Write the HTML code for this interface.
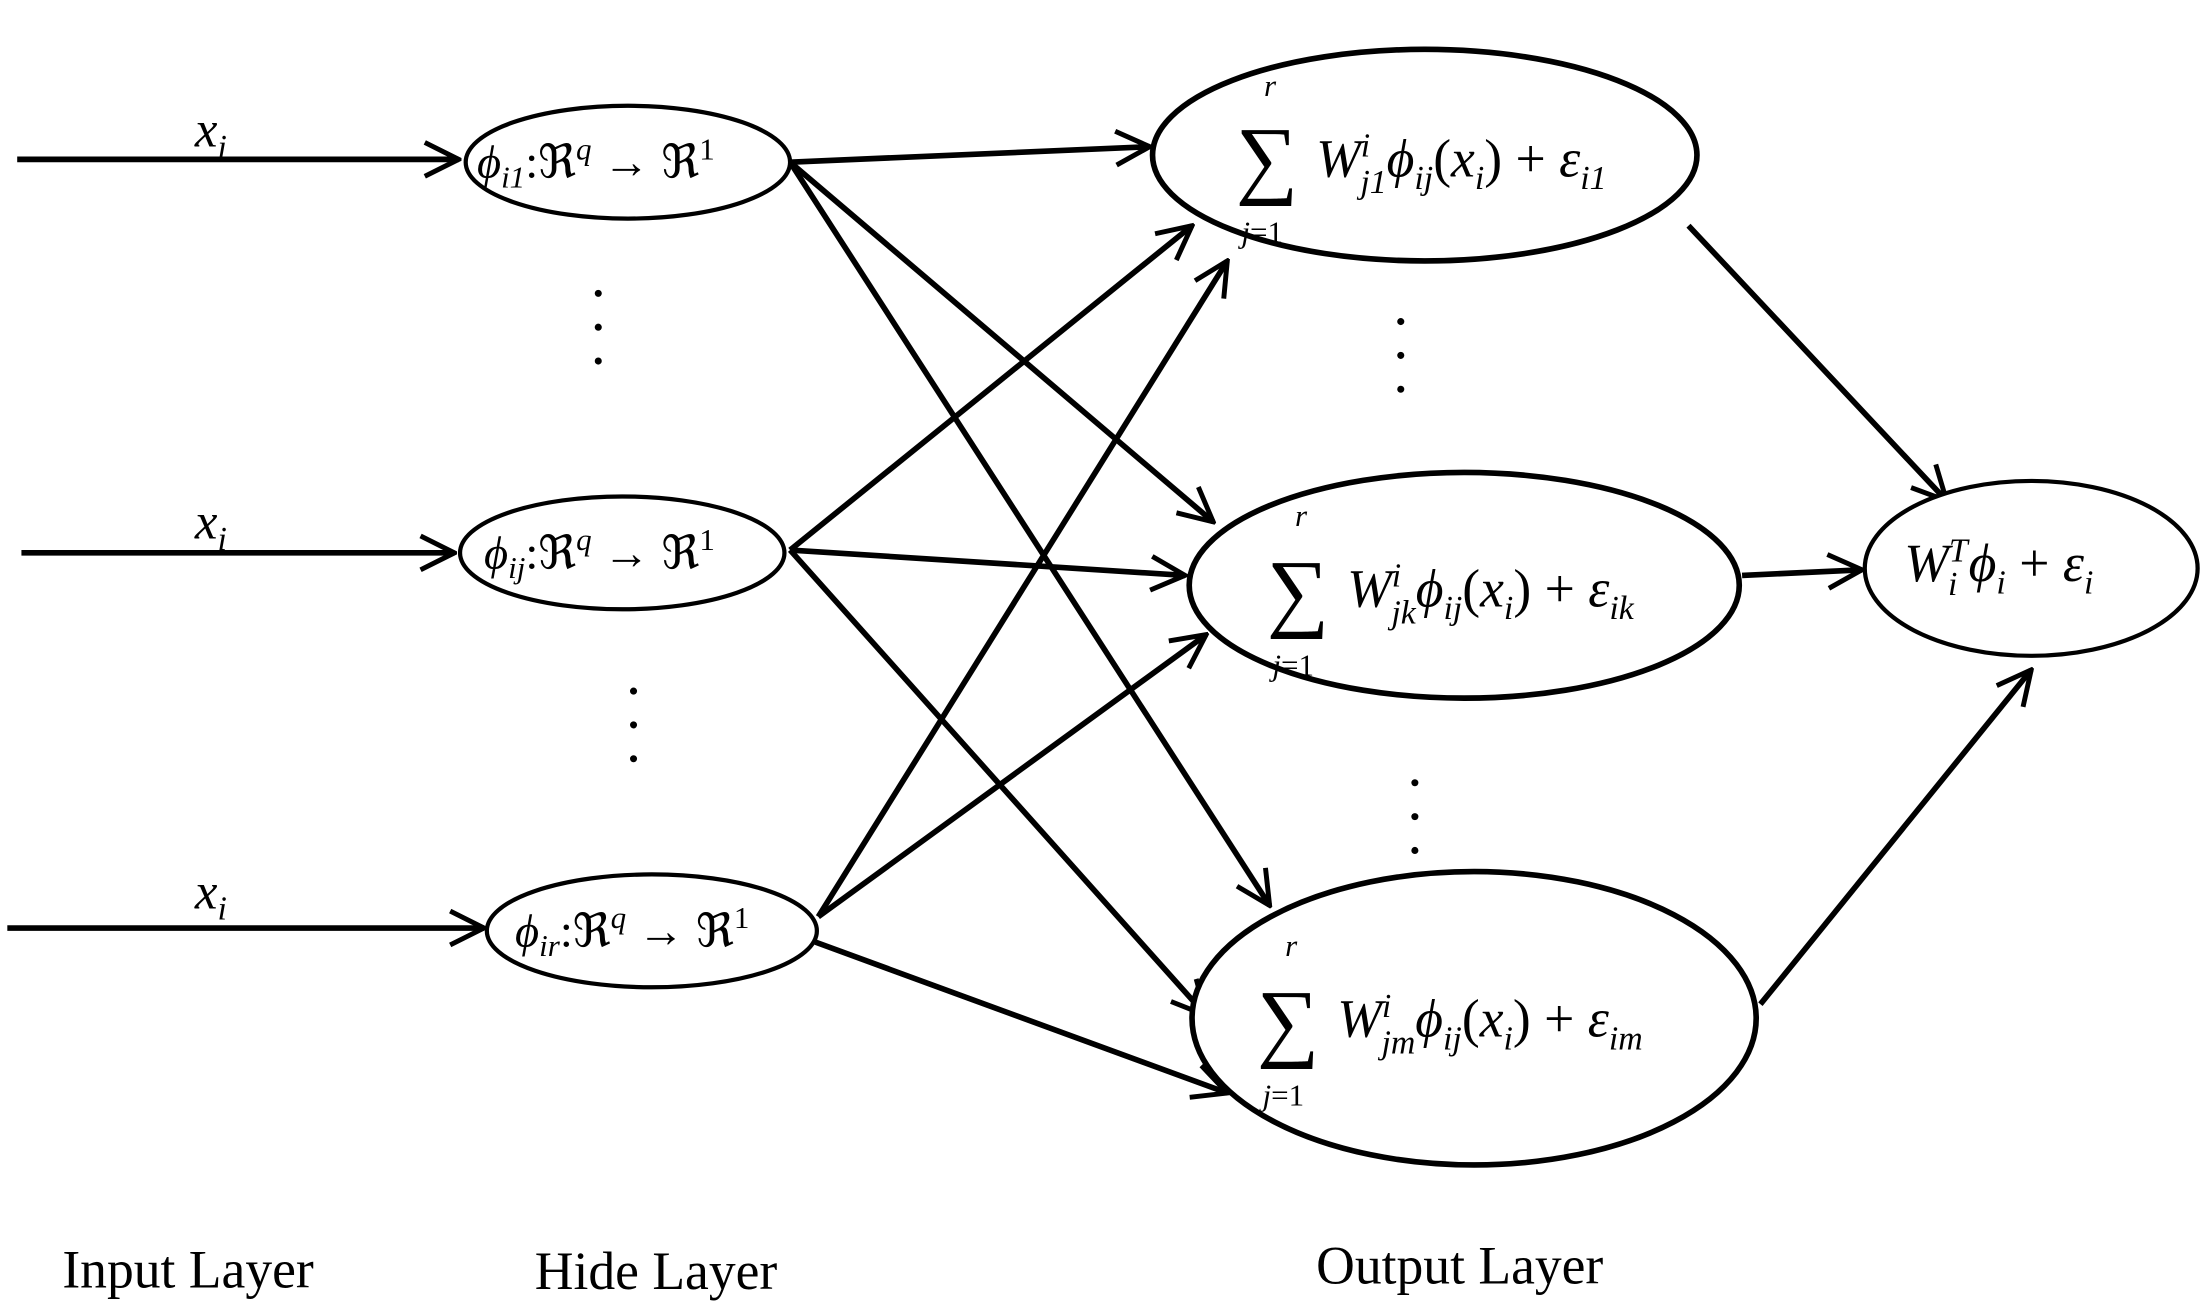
<!DOCTYPE html>
<html><head><meta charset="utf-8"><style>
html,body{margin:0;padding:0;background:#fff;}
svg{display:block;}
text{font-family:"Liberation Serif",serif;fill:#000;}
.m{font-style:italic;}
</style></head><body>
<svg width="2212" height="1306" viewBox="0 0 1568 926" xmlns="http://www.w3.org/2000/svg">
<defs>
<marker id="b" viewBox="0 0 30 30" refX="28" refY="15" markerWidth="30" markerHeight="30" markerUnits="userSpaceOnUse" orient="auto">
<path d="M4,3 L28,15 L4,27" fill="none" stroke="#000" stroke-width="3.5"/>
</marker>
</defs>
<g stroke="#000" stroke-width="4" fill="none" marker-end="url(#b)">
<line x1="12" y1="113" x2="325" y2="113"/>
<line x1="15" y1="392" x2="322" y2="392"/>
<line x1="5" y1="658" x2="343" y2="658"/>
<line x1="560" y1="115" x2="815" y2="104"/>
<line x1="560" y1="115" x2="860" y2="370"/>
<line x1="560" y1="115" x2="900" y2="642"/>
<line x1="560" y1="390" x2="845" y2="160"/>
<line x1="560" y1="390" x2="840" y2="408"/>
<line x1="560" y1="390" x2="855" y2="720"/>
<line x1="580" y1="650" x2="870" y2="185"/>
<line x1="580" y1="650" x2="855" y2="450"/>
<line x1="578" y1="668" x2="870" y2="775"/>
<line x1="1197" y1="160" x2="1380" y2="355"/>
<line x1="1235" y1="408" x2="1320" y2="404"/>
<line x1="1248" y1="712" x2="1440" y2="475"/>
</g>
<g stroke="#000" stroke-width="3" fill="#fff">
<ellipse cx="445" cy="115" rx="115" ry="40"/>
<ellipse cx="441" cy="392" rx="115" ry="40"/>
<ellipse cx="462" cy="660" rx="117" ry="40"/>
<ellipse cx="1010" cy="110" rx="193" ry="75" stroke-width="4"/>
<ellipse cx="1038" cy="415" rx="195" ry="80" stroke-width="4"/>
<ellipse cx="1045" cy="722" rx="200" ry="104" stroke-width="4"/>
<ellipse cx="1440" cy="403" rx="118" ry="62"/>
</g>
<g font-size="36">
<text x="138" y="104" class="m">x<tspan font-size="24" dy="8">i</tspan></text>
<text x="138" y="382" class="m">x<tspan font-size="24" dy="8">i</tspan></text>
<text x="138" y="644" class="m">x<tspan font-size="24" dy="8">i</tspan></text>
</g>
<g font-size="33">
<text x="338" y="126"><tspan class="m">ϕ</tspan><tspan font-size="22" dy="7" class="m">i1</tspan><tspan dy="-7">:ℜ</tspan><tspan font-size="22" dy="-13" class="m">q</tspan><tspan dy="13"> → ℜ</tspan><tspan font-size="22" dy="-13">1</tspan></text>
<text x="343" y="403"><tspan class="m">ϕ</tspan><tspan font-size="22" dy="7" class="m">ij</tspan><tspan dy="-7">:ℜ</tspan><tspan font-size="22" dy="-13" class="m">q</tspan><tspan dy="13"> → ℜ</tspan><tspan font-size="22" dy="-13">1</tspan></text>
<text x="365" y="671"><tspan class="m">ϕ</tspan><tspan font-size="22" dy="7" class="m">ir</tspan><tspan dy="-7">:ℜ</tspan><tspan font-size="22" dy="-13" class="m">q</tspan><tspan dy="13"> → ℜ</tspan><tspan font-size="22" dy="-13">1</tspan></text>
</g>
<g font-size="38">
<text x="876" y="133" font-size="62">∑</text>
<text x="896" y="68" font-size="22" class="m">r</text>
<text x="880" y="172" font-size="22"><tspan class="m">j</tspan>=1</text>
<text x="933" y="125"><tspan class="m">W</tspan><tspan font-size="24" dy="-14" class="m">i</tspan><tspan font-size="24" dx="-7" dy="26" class="m">j1</tspan><tspan dy="-12" class="m">ϕ</tspan><tspan font-size="24" dy="9" class="m">ij</tspan><tspan dy="-9">(</tspan><tspan class="m">x</tspan><tspan font-size="24" dy="9" class="m">i</tspan><tspan dy="-9">) + </tspan><tspan class="m">ε</tspan><tspan font-size="24" dy="9" class="m">i1</tspan></text>

<text x="898" y="440" font-size="62">∑</text>
<text x="918" y="373" font-size="22" class="m">r</text>
<text x="902" y="479" font-size="22"><tspan class="m">j</tspan>=1</text>
<text x="955" y="430"><tspan class="m">W</tspan><tspan font-size="24" dy="-14" class="m">i</tspan><tspan font-size="24" dx="-7" dy="26" class="m">jk</tspan><tspan dy="-12" class="m">ϕ</tspan><tspan font-size="24" dy="9" class="m">ij</tspan><tspan dy="-9">(</tspan><tspan class="m">x</tspan><tspan font-size="24" dy="9" class="m">i</tspan><tspan dy="-9">) + </tspan><tspan class="m">ε</tspan><tspan font-size="24" dy="9" class="m">ik</tspan></text>

<text x="891" y="745" font-size="62">∑</text>
<text x="911" y="678" font-size="22" class="m">r</text>
<text x="895" y="784" font-size="22"><tspan class="m">j</tspan>=1</text>
<text x="948" y="735"><tspan class="m">W</tspan><tspan font-size="24" dy="-14" class="m">i</tspan><tspan font-size="24" dx="-7" dy="26" class="m">jm</tspan><tspan dy="-12" class="m">ϕ</tspan><tspan font-size="24" dy="9" class="m">ij</tspan><tspan dy="-9">(</tspan><tspan class="m">x</tspan><tspan font-size="24" dy="9" class="m">i</tspan><tspan dy="-9">) + </tspan><tspan class="m">ε</tspan><tspan font-size="24" dy="9" class="m">im</tspan></text>

<text x="1350" y="412"><tspan class="m">W</tspan><tspan font-size="24" dy="-14" class="m">T</tspan><tspan font-size="24" dx="-14" dy="24" class="m">i</tspan><tspan dx="8" dy="-10" class="m">ϕ</tspan><tspan font-size="24" dy="9" class="m">i</tspan><tspan dy="-9"> + </tspan><tspan class="m">ε</tspan><tspan font-size="24" dy="9" class="m">i</tspan></text>
</g>
<g fill="#000">
<circle cx="424" cy="208" r="2.5"/><circle cx="424" cy="232" r="2.5"/><circle cx="424" cy="256" r="2.5"/>
<circle cx="449" cy="490" r="2.5"/><circle cx="449" cy="514" r="2.5"/><circle cx="449" cy="538" r="2.5"/>
<circle cx="993" cy="228" r="2.5"/><circle cx="993" cy="252" r="2.5"/><circle cx="993" cy="276" r="2.5"/>
<circle cx="1003" cy="555" r="2.5"/><circle cx="1003" cy="579" r="2.5"/><circle cx="1003" cy="603" r="2.5"/>
</g>
<g font-size="38">
<text x="44" y="913">Input Layer</text>
<text x="379" y="914">Hide Layer</text>
<text x="933" y="910">Output Layer</text>
</g>
</svg>
</body></html>
